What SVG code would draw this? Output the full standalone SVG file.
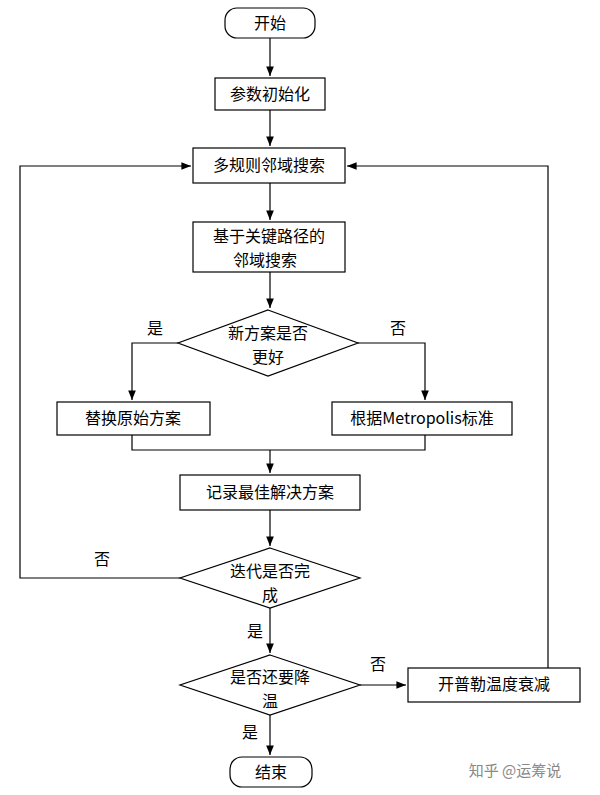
<svg xmlns="http://www.w3.org/2000/svg" width="600" height="795" viewBox="0 0 600 795">
<style>
.b{fill:#fff;stroke:#000;stroke-width:1.2}
.t{font-family:"Noto Sans CJK SC","Liberation Serif",serif;font-size:16px;text-anchor:middle;fill:#000}
.c{fill:none;stroke:#000;stroke-width:1.2}
</style>
<defs><marker id="a" viewBox="0 0 10 10" refX="10" refY="5" markerWidth="8" markerHeight="8" orient="auto"><path d="M0,1 L10,5 L0,9 z" fill="#000"/></marker></defs>
<rect width="600" height="795" fill="#fff"/>
<g id="connectors">
<path class="c" d="M270,38 V76" marker-end="url(#a)"/>
<path class="c" d="M270,110 V146" marker-end="url(#a)"/>
<path class="c" d="M270,183 V220" marker-end="url(#a)"/>
<path class="c" d="M270,272 V308" marker-end="url(#a)"/>
<path class="c" d="M178,343 H132 V400" marker-end="url(#a)"/>
<path class="c" d="M358,343 H425 V400" marker-end="url(#a)"/>
<path class="c" d="M132,435 V450 H425 V435"/>
<path class="c" d="M270,450 V473" marker-end="url(#a)"/>
<path class="c" d="M270,510 V546" marker-end="url(#a)"/>
<path class="c" d="M180,578 H20 V166 H191" marker-end="url(#a)"/>
<path class="c" d="M270,608 V653" marker-end="url(#a)"/>
<path class="c" d="M360,685 H406" marker-end="url(#a)"/>
<path class="c" d="M548,668 V166 H347" marker-end="url(#a)"/>
<path class="c" d="M270,715 V755" marker-end="url(#a)"/>
</g>
<g class="t">
<text x="155" y="334">是</text><text x="398" y="334">否</text>
<text x="102" y="565">否</text><text x="255" y="637">是</text>
<text x="378" y="670">否</text><text x="250" y="738">是</text>
</g>
<g id="start"><rect class="b" x="225" y="8" width="90" height="30" rx="12"/><text class="t" x="270" y="29">开始</text></g>
<g id="init"><rect class="b" x="215" y="78" width="110" height="32"/><text class="t" x="270" y="100">参数初始化</text></g>
<g id="multi"><rect class="b" x="193" y="148" width="152" height="35"/><text class="t" x="269" y="171">多规则邻域搜索</text></g>
<g id="crit"><rect class="b" x="193" y="222" width="152" height="50"/><text class="t" x="269" y="242">基于关键路径的</text><text class="t" x="265" y="266">邻域搜索</text></g>
<g id="better"><polygon class="b" points="268,310 358,343 268,376 178,343"/><text class="t" x="268" y="339">新方案是否</text><text class="t" x="268" y="363">更好</text></g>
<g id="replace"><rect class="b" x="57" y="402" width="153" height="33"/><text class="t" x="133" y="424">替换原始方案</text></g>
<g id="metro"><rect class="b" x="332" y="402" width="180" height="33"/><text class="t" x="422" y="424">根据Metropolis标准</text></g>
<g id="record"><rect class="b" x="180" y="475" width="180" height="35"/><text class="t" x="270" y="498">记录最佳解决方案</text></g>
<g id="iter"><polygon class="b" points="270,548 360,578 270,608 180,578"/><text class="t" x="270" y="577">迭代是否完</text><text class="t" x="270" y="601">成</text></g>
<g id="cool"><polygon class="b" points="270,655 360,685 270,715 180,685"/><text class="t" x="270" y="683">是否还要降</text><text class="t" x="270" y="707">温</text></g>
<g id="kepler"><rect class="b" x="408" y="668" width="172" height="34"/><text class="t" x="494" y="690">开普勒温度衰减</text></g>
<g id="end"><rect class="b" x="230" y="757" width="82" height="30" rx="12"/><text class="t" x="271" y="778">结束</text></g>
<text x="515" y="776" style="font-family:'Noto Sans CJK SC',sans-serif;font-size:15px;fill:#888;text-anchor:middle">知乎 @运筹说</text>
</svg>
